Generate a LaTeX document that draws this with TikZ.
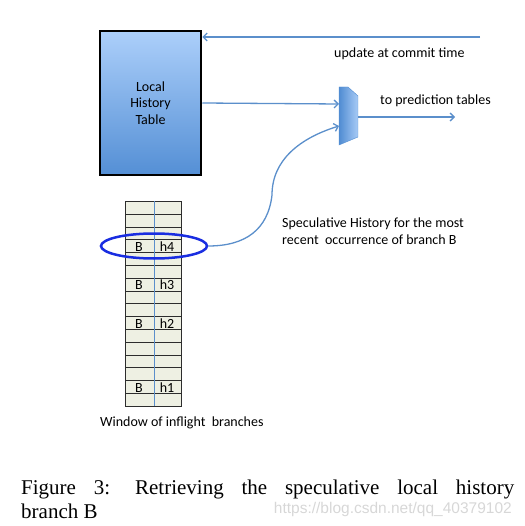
\documentclass[tikz,border=0pt]{standalone}
\usepackage{fontspec}
\setmainfont{Liberation Serif}
\newfontfamily\diagfont{Carlito}
\newfontfamily\wmfont{Liberation Sans}
\usetikzlibrary{shapes.geometric,arrows.meta}
\definecolor{linkblue}{RGB}{91,143,203}
\definecolor{ellblue}{RGB}{25,45,225}
\definecolor{lhttop}{RGB}{172,207,250}
\definecolor{lhtbot}{RGB}{84,143,213}
\definecolor{muxdark}{RGB}{80,140,210}
\definecolor{muxlight}{RGB}{168,203,246}
\definecolor{rowfill}{RGB}{238,240,227}
\definecolor{rowline}{RGB}{45,45,45}
\definecolor{wmgray}{RGB}{215,215,215}
\begin{document}
\begin{tikzpicture}[x=1pt,y=-1pt,
  lht/.style={draw=black, line width=2.5pt, top color=lhttop, bottom color=lhtbot,
    minimum width=101pt, minimum height=144pt, inner sep=0pt, align=center,
    font=\diagfont\fontsize{14}{16.5}\selectfont},
  rowbox/.style={draw=rowline, line width=0.8pt, fill=rowfill, minimum width=56pt,
    minimum height=12.8pt, inner sep=0pt, anchor=north west},
  celltext/.style={font=\diagfont\fontsize{14}{15}\selectfont, inner sep=0pt, anchor=base},
  lbl/.style={font=\diagfont\fontsize{14}{17}\selectfont, inner sep=0pt, align=left},
  conn/.style={draw=linkblue, line width=1.3pt, -{Straight Barb[length=4pt,width=8pt]}},
  plainconn/.style={draw=linkblue, line width=1.3pt},
  muxfill/.style={left color=muxdark, right color=muxlight, draw=muxdark, line width=0.4pt},
  ring/.style={ellipse, draw=ellblue, line width=2.5pt, minimum width=106pt, minimum height=25pt, inner sep=0pt}
]
\useasboundingbox (0,0) rectangle (524,526);

% Local History Table
\node[lht] (lht) at (150.5,103) {Local\\History\\Table};

% multiplexer
\path[muxfill] (339,87) -- (348,87) -- (358,96) -- (358,137) -- (339,145) -- cycle;
\coordinate (muxin1) at (339,104);
\coordinate (muxin2) at (339,126);
\coordinate (muxout) at (358,117);
\coordinate (outend) at (455,117);
\coordinate (updR) at (480,37);

% connectors
\draw[conn] (updR) -- (updR -| lht.east);
\draw[conn] (lht.east |- 0,103) -- (muxin1);
\draw[conn] (muxout) -- (outend);

% window of inflight branches
\foreach \i in {1,...,16} {
  \pgfmathsetmacro\yt{201+(\i-1)*12.8}
  \node[rowbox] (row\i) at (125,\yt) {};
}
\draw[plainconn, line width=1pt] (154,201) -- (154,406);

\node[celltext] (b4) at (139,251) {B};
\node[celltext] (h4) at (167,251) {h4};
\node[celltext] (b3) at (139,289.5) {B};
\node[celltext] (h3) at (167,289.5) {h3};
\node[celltext] (b2) at (139,328) {B};
\node[celltext] (h2) at (167,328) {h2};
\node[celltext] (b1) at (139,392) {B};
\node[celltext] (h1) at (167,392) {h1};

\node[ring] (ell) at (154,246) {};

\draw[conn] (ell.east) .. controls (245,246) and (268,230) .. (272,195)
  .. controls (272,160) and (300,138) .. (muxin2);

% labels
\node[lbl, anchor=west] (upd) at (334,54) {update at commit time};
\node[lbl, anchor=west] (topred) at (380,101) {to prediction tables};
\node[lbl, anchor=west] (spec) at (282,231.5) {Speculative History for the most\\recent\ \ occurrence of branch B};
\node[lbl, anchor=west] (win) at (100,423) {Window of inflight\ \ branches};

% caption
\node[anchor=north west, inner sep=0pt, text width=493pt, align=justify,
  font=\fontsize{21}{24}\selectfont] (cap) at (21,479.5)
  {Figure 3:\hspace{25pt}Retrieving the speculative local history\linebreak branch B};
\node[anchor=base east, inner sep=0pt, text=wmgray, font=\wmfont\fontsize{15.5}{17}\selectfont] (wm) at (512,513) {https://blog.csdn.net/qq\_40379102};
\end{tikzpicture}
\end{document}
